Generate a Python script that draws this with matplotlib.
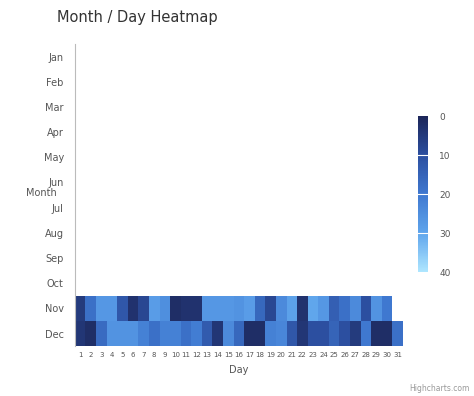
import matplotlib.pyplot as plt
import numpy as np
from matplotlib.colors import LinearSegmentedColormap

months = ["Jan", "Feb", "Mar", "Apr", "May", "Jun", "Jul", "Aug", "Sep", "Oct", "Nov", "Dec"]
days = list(range(1, 32))

# only November and December have values
nov = [5, 18, 27, 27, 12, 3, 8, 28, 25, 2, 3, 3, 27, 27, 27, 26, 28, 16, 8, 24,
       29, 3, 30, 27, 14, 18, 24, 10, 26, 20]
dec = [4, 2, 17, 26, 26, 26, 22, 18, 22, 22, 18, 21, 13, 4, 24, 16, 2, 2, 22, 23,
       12, 4, 10, 10, 15, 10, 5, 20, 2, 2, 18]

grid = np.full((12, 31), np.nan)
grid[10, :len(nov)] = nov
grid[11, :len(dec)] = dec

cmap = LinearSegmentedColormap.from_list(
    "hc", [(0, "#1c2659"), (0.25, "#2c4fa0"), (0.5, "#3f78d0"),
           (0.75, "#5fa5ec"), (1, "#aee6ff")])

fig = plt.figure(figsize=(4.74, 3.96), dpi=100)
ax = fig.add_axes([0.158, 0.126, 0.692, 0.763])
mesh = ax.pcolormesh(np.arange(0.5, 32.5), np.arange(-0.5, 12.5), grid,
                     cmap=cmap, vmin=0, vmax=40)
ax.set_xlim(0.5, 31.5)
ax.set_ylim(11.5, -0.5)
ax.set_yticks(range(12))
ax.set_yticklabels(months, fontsize=7, color="#555555")
ax.set_xticks(days)
ax.set_xticklabels([str(d) for d in days], fontsize=5, color="#555555")
ax.tick_params(axis="y", length=0, pad=8)
ax.tick_params(axis="x", length=0, pad=4)
for s in ["top", "right", "bottom"]:
    ax.spines[s].set_visible(False)
ax.spines["left"].set_color("#bbbbbb")
ax.spines["left"].set_linewidth(0.8)

fig.text(0.055, 0.512, "Month", fontsize=7, color="#555555", ha="left", va="center")
ax.set_xlabel("Day", fontsize=7, color="#555555", labelpad=5)
fig.text(0.12, 0.955, "Month / Day Heatmap", fontsize=10.5, color="#333333",
         ha="left", va="center")
fig.text(0.99, 0.02, "Highcharts.com", fontsize=5.5, color="#999999",
         ha="right", va="center")

cax = fig.add_axes([0.882, 0.313, 0.021, 0.394])
cb = fig.colorbar(mesh, cax=cax)
cb.outline.set_visible(False)
cax.invert_yaxis()
cb.set_ticks([0, 10, 20, 30, 40])
cax.tick_params(length=0, labelsize=6.5, labelcolor="#555555", pad=8)
for v in [10, 20, 30]:
    cax.axhline(v, color="white", lw=0.8)

fig.savefig("out.png", dpi=100)
